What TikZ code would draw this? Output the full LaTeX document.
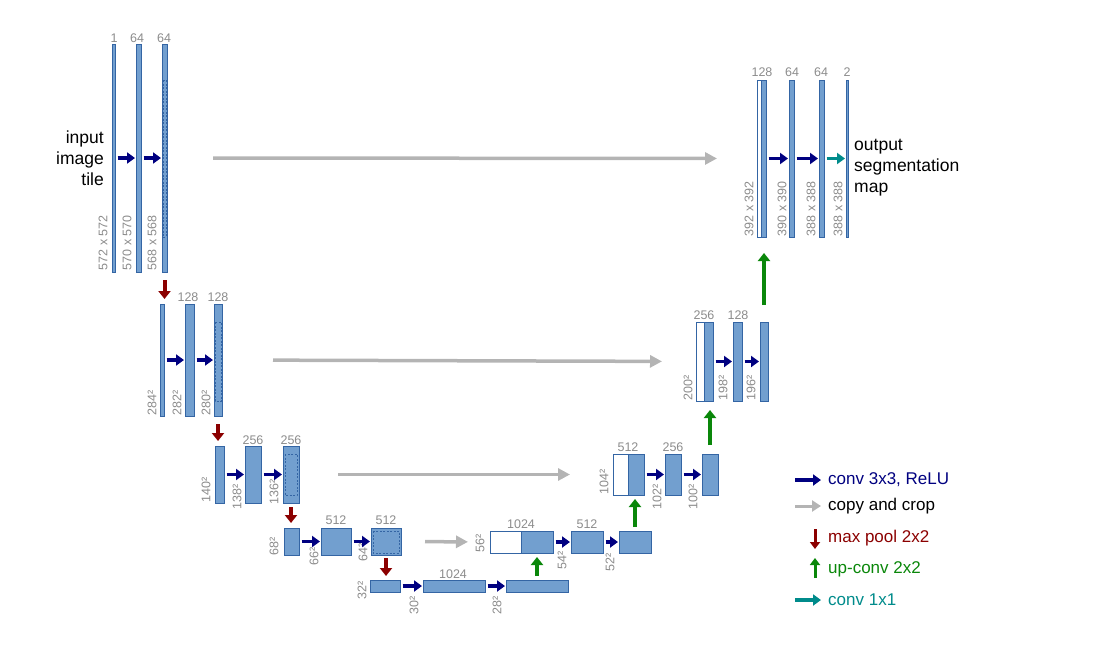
\documentclass[tikz,border=0pt]{standalone}
\usepackage{fontspec}
\setmainfont{Liberation Sans}
\usetikzlibrary{arrows.meta}
\definecolor{fillc}{HTML}{729FCF}
\definecolor{bordc}{HTML}{3465A4}
\definecolor{navyc}{HTML}{000080}
\definecolor{greyc}{HTML}{B4B4B4}
\definecolor{redc}{HTML}{8B0000}
\definecolor{greenc}{HTML}{0A870A}
\definecolor{tealc}{HTML}{008B8B}
\definecolor{labc}{HTML}{8C8C8C}
\newcommand\bx[6][blk]{\node[#1,anchor=north west,minimum width={(#5-#3)*1pt},minimum height={(#6-#4)*1pt}] (#2) at (#3,#4) {};}
\newcommand\lab[3]{\node[lab] at (#1,#2) {#3};}
\newcommand\vlab[3]{\node[lab,rotate=90,anchor=west] at (#1,#2) {#3};}
\begin{document}
\begin{tikzpicture}[x=1pt,y=-1pt,
  blk/.style={draw=bordc,fill=fillc,line width=0.8pt,inner sep=0pt,outer sep=0pt},
  wht/.style={blk,fill=white},
  lab/.style={text=labc,font=\fontsize{12.5}{12.5}\selectfont,inner sep=0.5pt},
  txt/.style={font=\fontsize{17.5}{21}\selectfont,align=left,inner sep=0pt},
  conv/.style={-{Triangle[length=8pt,width=11pt]},line width=3.5pt,navyc},
  copy/.style={-{Triangle[length=12pt,width=12pt]},line width=3.5pt,greyc},
  down/.style={-{Triangle[length=8pt,width=12pt]},line width=4pt,redc},
  up/.style={-{Triangle[length=8pt,width=12pt]},line width=4pt,greenc},
  one/.style={-{Triangle[length=8pt,width=11pt]},line width=3.5pt,tealc},
  dsh/.style={draw=bordc,dashed,line width=0.6pt,dash pattern=on 2pt off 1.5pt}]
\useasboundingbox (0,0) rectangle (1102,653);
% level 1
\bx{a1}{112}{44}{115}{272}
\bx{a2}{136}{44}{141}{272}
\bx{a3}{162}{44}{167}{272}
\draw[dsh] (162.8,80) rectangle (166.2,237);
\lab{114}{38}{1}\lab{137}{38}{64}\lab{164}{38}{64}
\vlab{103}{271}{572 x 572}\vlab{127}{271}{570 x 570}\vlab{152}{271}{568 x 568}
\node[txt,align=right,anchor=east] (in) at (104,158) {input\\image\\tile};
% level 2
\bx{b1}{160}{304}{164}{416}
\bx{b2}{185}{304}{194}{416}
\bx{b3}{214}{304}{222}{416}
\draw[dsh] (215,322) rectangle (221,401);
\lab{188}{297}{128}\lab{218}{297}{128}
\vlab{152}{416}{284²}\vlab{177}{416}{282²}\vlab{206}{416}{280²}
% level 3
\bx{c1}{215}{446}{224}{503}
\bx{c2}{245}{446}{261}{503}
\bx{c3}{283}{446}{299}{503}
\draw[dsh] (285,454) rectangle (297,495);
\lab{253}{440}{256}\lab{291}{440}{256}
\vlab{206}{503}{140²}\vlab{237}{510}{138²}\vlab{274}{505}{136²}
% level 4
\bx{d1}{284}{528}{299}{555}
\bx{d2}{321}{528}{351}{555}
\bx{d3}{371}{528}{401}{555}
\draw[dsh] (373,531) rectangle (399,553);
\lab{336}{520}{512}\lab{386}{520}{512}
\vlab{274}{556}{68²}\vlab{314}{566}{66²}\vlab{363}{562}{64²}
% level 5
\bx{e1}{370}{580}{400}{592}
\bx{e2}{423}{580}{485}{592}
\bx{e3}{506}{580}{568}{592}
\lab{453}{574}{1024}
\vlab{362}{600}{32²}\vlab{414}{615}{30²}\vlab{497}{615}{28²}
% up 4
\bx[wht]{f0}{490}{531}{521}{553}
\bx{f1}{521}{531}{553}{553}
\bx{f2}{571}{531}{603}{553}
\bx{f3}{619}{531}{651}{553}
\lab{521}{524}{1024}\lab{587}{524}{512}
\vlab{480}{553}{56²}\vlab{562}{570}{54²}\vlab{610}{572}{52²}
% up 3
\bx[wht]{g0}{613}{454}{628}{495}
\bx{g1}{628}{454}{644}{495}
\bx{g2}{665}{454}{681}{495}
\bx{g3}{702}{454}{718}{495}
\lab{628}{447}{512}\lab{673}{447}{256}
\vlab{604}{495}{104²}\vlab{657}{510}{102²}\vlab{693}{510}{100²}
% up 2
\bx[wht]{h0}{696}{322}{704}{401}
\bx{h1}{704}{322}{713}{401}
\bx{h2}{733}{322}{742}{401}
\bx{h3}{760}{322}{768}{401}
\lab{704}{315}{256}\lab{738}{315}{128}
\vlab{688}{401}{200²}\vlab{723}{401}{198²}\vlab{751}{401}{196²}
% up 1
\bx[wht]{k0}{757}{80}{761}{237}
\bx{k1}{761}{80}{766}{237}
\bx{k2}{789}{80}{794}{237}
\bx{k3}{819}{80}{824}{237}
\bx{k4}{846}{80}{848}{237}
\lab{762}{72}{128}\lab{792}{72}{64}\lab{821}{72}{64}\lab{847}{72}{2}
\vlab{749}{237}{392 x 392}\vlab{782}{237}{390 x 390}\vlab{811}{237}{388 x 388}\vlab{838}{237}{388 x 388}
\node[txt,anchor=west] (out) at (854,168) {output\\segmentation\\map};
% conv arrows
\foreach \p/\q in {a1/a2,a2/a3,b1/b2,b2/b3,c1/c2,c2/c3,d1/d2,d2/d3,e1/e2,e2/e3,f1/f2,f2/f3,g1/g2,g2/g3,h1/h2,h2/h3,k1/k2,k2/k3}
  \draw[conv,shorten <=2.5pt,shorten >=1pt] (\p.east) -- (\q.west);
\draw[one,shorten <=2.5pt,shorten >=1pt] (k3.east) -- (k4.west);
% copy
\draw[copy,shorten <=46pt,shorten >=40pt] (a3.east) -- (k0.west);
\draw[copy,shorten <=51pt,shorten >=34pt] (b3.east) -- (h0.west);
\draw[copy,shorten <=39pt,shorten >=43pt] (c3.east) -- (g0.west);
\draw[copy,shorten <=24pt,shorten >=22pt] (d3.east) -- (f0.west);
% max pool
\draw[down,shorten <=8pt,shorten >=5pt] (a3.south) -- (a3.south |- b1.north);
\draw[down,shorten <=8pt,shorten >=5pt] (b3.south) -- (b3.south |- c1.north);
\draw[down,shorten <=4pt,shorten >=5pt] (c3.south) -- (c3.south |- d1.north);
\draw[down,shorten <=3pt,shorten >=4pt] (d3.south) -- (d3.south |- e1.north);
% up-conv
\draw[up,shorten <=4pt,shorten >=4pt] (e3.north) -- (e3.north |- f1.south);
\draw[up,shorten <=4pt,shorten >=4pt] (f3.north) -- (f3.north |- g1.south);
\draw[up,shorten <=9pt,shorten >=9pt] (g3.north) -- (g3.north |- h1.south);
\draw[up,shorten <=17pt,shorten >=16pt] (h3.north) -- (h3.north |- k1.south);
% legend
\coordinate (l1a) at (795,480); \coordinate (l1b) at (821,480);
\coordinate (l2a) at (795,506); \coordinate (l2b) at (821,506);
\coordinate (l3a) at (815,529); \coordinate (l3b) at (815,549);
\coordinate (l4a) at (815,578); \coordinate (l4b) at (815,558);
\coordinate (l5a) at (795,600); \coordinate (l5b) at (821,600);
\draw[conv] (l1a) -- (l1b);
\draw[-{Triangle[length=9pt,width=11pt]},line width=3pt,greyc] (l2a) -- (l2b);
\draw[-{Triangle[length=7pt,width=10pt]},line width=3pt,redc] (l3a) -- (l3b);
\draw[-{Triangle[length=7pt,width=10pt]},line width=3pt,greenc] (l4a) -- (l4b);
\draw[one] (l5a) -- (l5b);
\tikzset{leg/.style={anchor=west,font=\fontsize{17}{17}\selectfont,inner sep=0pt}}
\node[leg,text=navyc] (t1) at (828,480) {conv 3x3, ReLU};
\node[leg,text=black] (t2) at (828,506) {copy and crop};
\node[leg,text=redc] (t3) at (828,538) {max pool 2x2};
\node[leg,text=greenc] (t4) at (828,569) {up-conv 2x2};
\node[leg,text=tealc] (t5) at (828,600) {conv 1x1};
\end{tikzpicture}
\end{document}
